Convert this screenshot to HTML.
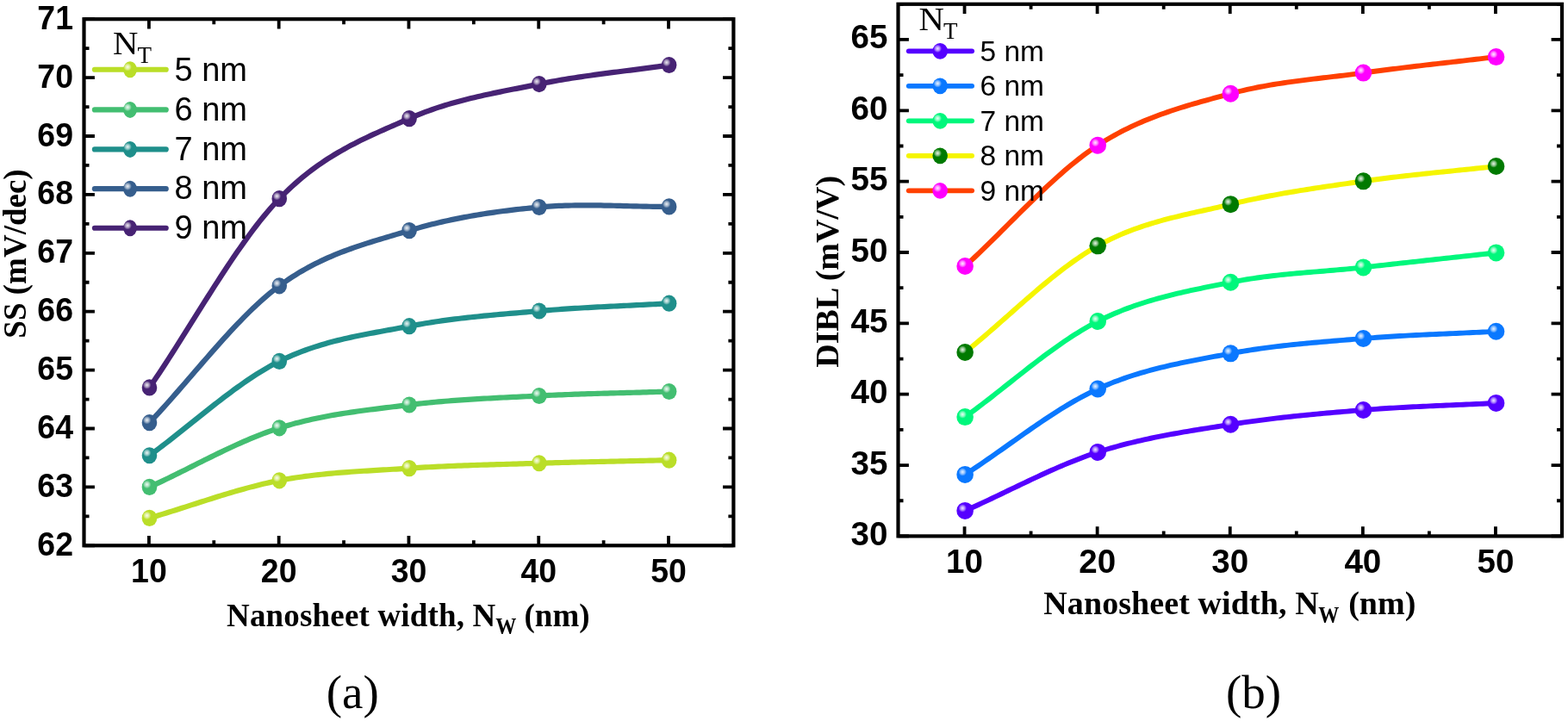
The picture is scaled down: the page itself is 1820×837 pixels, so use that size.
<!DOCTYPE html>
<html><head><meta charset="utf-8"><title>Figure</title><style>
html,body{margin:0;padding:0;background:#fff;}
body{width:1820px;height:837px;overflow:hidden;}
svg{display:block;}
.tk{font-family:"Liberation Sans",Arial,sans-serif;font-weight:bold;font-size:39px;fill:#000;}
.tkb{font-family:"Liberation Sans",Arial,sans-serif;font-weight:bold;font-size:38.6px;fill:#000;}
.lgb{font-family:"Liberation Sans",Arial,sans-serif;font-size:33.5px;fill:#000;}
.axb{font-family:"Liberation Serif","Times New Roman",serif;font-weight:bold;font-size:38px;fill:#000;}
.lg{font-family:"Liberation Sans",Arial,sans-serif;font-size:38px;fill:#000;}
.nt{font-family:"Liberation Serif","Times New Roman",serif;font-size:38px;fill:#000;}
.sub{font-size:27px;}
.ax{font-family:"Liberation Serif","Times New Roman",serif;font-weight:bold;font-size:37px;fill:#000;}
.axsub{font-size:28px;}
.pl{font-family:"Liberation Serif","Times New Roman",serif;font-size:55px;fill:#000;}
</style></head><body>
<svg width="1820" height="837" viewBox="0 0 1820 837">
<defs><radialGradient id="hl"><stop offset="0" stop-color="#fff" stop-opacity="0.9"/><stop offset="0.5" stop-color="#fff" stop-opacity="0.55"/><stop offset="1" stop-color="#fff" stop-opacity="0"/></radialGradient></defs>
<rect width="1820" height="837" fill="#fff"/>
<rect x="97.5" y="22.2" width="753.9" height="611.1" fill="none" stroke="#000" stroke-width="4.2"/>
<path d="M172.89 633.3V622.1M172.89 22.2V33.4M323.67 633.3V622.1M323.67 22.2V33.4M474.45 633.3V622.1M474.45 22.2V33.4M625.23 633.3V622.1M625.23 22.2V33.4M776.01 633.3V622.1M776.01 22.2V33.4M248.28 633.3V627.3M248.28 22.2V28.2M399.06 633.3V627.3M399.06 22.2V28.2M549.84 633.3V627.3M549.84 22.2V28.2M700.62 633.3V627.3M700.62 22.2V28.2M97.5 633.3H109.9M851.4 633.3H839M97.5 565.4H109.9M851.4 565.4H839M97.5 497.5H109.9M851.4 497.5H839M97.5 429.6H109.9M851.4 429.6H839M97.5 361.7H109.9M851.4 361.7H839M97.5 293.8H109.9M851.4 293.8H839M97.5 225.9H109.9M851.4 225.9H839M97.5 158H109.9M851.4 158H839M97.5 90.1H109.9M851.4 90.1H839M97.5 22.2H109.9M851.4 22.2H839M97.5 599.35H103.5M851.4 599.35H845.4M97.5 531.45H103.5M851.4 531.45H845.4M97.5 463.55H103.5M851.4 463.55H845.4M97.5 395.65H103.5M851.4 395.65H845.4M97.5 327.75H103.5M851.4 327.75H845.4M97.5 259.85H103.5M851.4 259.85H845.4M97.5 191.95H103.5M851.4 191.95H845.4M97.5 124.05H103.5M851.4 124.05H845.4M97.5 56.15H103.5M851.4 56.15H845.4" stroke="#000" stroke-width="3.8" fill="none"/>
<text class="tk" transform="translate(85,644.8) scale(0.96,1)" text-anchor="end">62</text>
<text class="tk" transform="translate(85,576.9) scale(0.96,1)" text-anchor="end">63</text>
<text class="tk" transform="translate(85,509) scale(0.96,1)" text-anchor="end">64</text>
<text class="tk" transform="translate(85,441.1) scale(0.96,1)" text-anchor="end">65</text>
<text class="tk" transform="translate(85,373.2) scale(0.96,1)" text-anchor="end">66</text>
<text class="tk" transform="translate(85,305.3) scale(0.96,1)" text-anchor="end">67</text>
<text class="tk" transform="translate(85,237.4) scale(0.96,1)" text-anchor="end">68</text>
<text class="tk" transform="translate(85,169.5) scale(0.96,1)" text-anchor="end">69</text>
<text class="tk" transform="translate(85,101.6) scale(0.96,1)" text-anchor="end">70</text>
<text class="tk" transform="translate(85,33.7) scale(0.96,1)" text-anchor="end">71</text>
<text class="tk" transform="translate(172.89,676.1) scale(0.96,1)" text-anchor="middle">10</text>
<text class="tk" transform="translate(323.67,676.1) scale(0.96,1)" text-anchor="middle">20</text>
<text class="tk" transform="translate(474.45,676.1) scale(0.96,1)" text-anchor="middle">30</text>
<text class="tk" transform="translate(625.23,676.1) scale(0.96,1)" text-anchor="middle">40</text>
<text class="tk" transform="translate(776.01,676.1) scale(0.96,1)" text-anchor="middle">50</text>
<polyline points="173.49,601.39 177.26,600.29 181.03,599.17 184.8,598.04 188.57,596.9 192.34,595.74 196.11,594.57 199.88,593.39 203.65,592.2 207.42,591 211.18,589.8 214.95,588.59 218.72,587.38 222.49,586.17 226.26,584.96 230.03,583.75 233.8,582.54 237.57,581.33 241.34,580.13 245.11,578.94 248.88,577.75 252.65,576.58 256.42,575.41 260.19,574.26 263.96,573.12 267.73,571.99 271.5,570.88 275.27,569.79 279.04,568.71 282.81,567.66 286.58,566.63 290.34,565.62 294.11,564.63 297.88,563.67 301.65,562.74 305.42,561.84 309.19,560.96 312.96,560.12 316.73,559.31 320.5,558.54 324.27,557.8 328.04,557.09 331.81,556.41 335.58,555.77 339.35,555.15 343.12,554.56 346.89,553.99 350.66,553.46 354.43,552.94 358.2,552.45 361.97,551.98 365.73,551.54 369.5,551.11 373.27,550.71 377.04,550.32 380.81,549.95 384.58,549.6 388.35,549.26 392.12,548.94 395.89,548.64 399.66,548.34 403.43,548.06 407.2,547.78 410.97,547.52 414.74,547.27 418.51,547.02 422.28,546.78 426.05,546.55 429.82,546.32 433.59,546.1 437.36,545.88 441.12,545.66 444.89,545.44 448.66,545.22 452.43,545 456.2,544.78 459.97,544.55 463.74,544.32 467.51,544.09 471.28,543.85 475.05,543.6 478.82,543.36 482.59,543.12 486.36,542.89 490.13,542.67 493.9,542.46 497.67,542.25 501.44,542.06 505.21,541.87 508.98,541.68 512.75,541.5 516.51,541.33 520.28,541.17 524.05,541.01 527.82,540.85 531.59,540.7 535.36,540.56 539.13,540.42 542.9,540.28 546.67,540.15 550.44,540.02 554.21,539.9 557.98,539.77 561.75,539.66 565.52,539.54 569.29,539.42 573.06,539.31 576.83,539.2 580.6,539.09 584.37,538.98 588.14,538.87 591.9,538.76 595.67,538.66 599.44,538.55 603.21,538.44 606.98,538.33 610.75,538.22 614.52,538.11 618.29,538 622.06,537.88 625.83,537.76 629.6,537.65 633.37,537.53 637.14,537.42 640.91,537.31 644.68,537.21 648.45,537.1 652.22,537 655.99,536.9 659.76,536.8 663.52,536.71 667.29,536.61 671.06,536.52 674.83,536.43 678.6,536.34 682.37,536.25 686.14,536.16 689.91,536.08 693.68,535.99 697.45,535.91 701.22,535.83 704.99,535.74 708.76,535.66 712.53,535.58 716.3,535.5 720.07,535.42 723.84,535.34 727.61,535.26 731.38,535.18 735.15,535.09 738.92,535.01 742.68,534.93 746.45,534.85 750.22,534.77 753.99,534.68 757.76,534.6 761.53,534.52 765.3,534.43 769.07,534.34 772.84,534.26 776.61,534.17" fill="none" stroke="#BADE28" stroke-width="6.2" stroke-linejoin="round" stroke-linecap="round"/>
<polyline points="173.49,565.4 177.26,563.67 181.03,561.92 184.8,560.15 188.57,558.35 192.34,556.54 196.11,554.71 199.88,552.87 203.65,551.02 207.42,549.15 211.18,547.28 214.95,545.4 218.72,543.51 222.49,541.62 226.26,539.73 230.03,537.85 233.8,535.96 237.57,534.09 241.34,532.21 245.11,530.35 248.88,528.5 252.65,526.66 256.42,524.84 260.19,523.03 263.96,521.25 267.73,519.48 271.5,517.74 275.27,516.02 279.04,514.33 282.81,512.66 286.58,511.03 290.34,509.43 294.11,507.86 297.88,506.34 301.65,504.85 305.42,503.4 309.19,501.99 312.96,500.62 316.73,499.31 320.5,498.04 324.27,496.82 328.04,495.65 331.81,494.52 335.58,493.43 339.35,492.37 343.12,491.36 346.89,490.38 350.66,489.43 354.43,488.52 358.2,487.65 361.97,486.8 365.73,485.98 369.5,485.19 373.27,484.43 377.04,483.7 380.81,482.99 384.58,482.3 388.35,481.64 392.12,481 395.89,480.38 399.66,479.78 403.43,479.2 407.2,478.64 410.97,478.09 414.74,477.55 418.51,477.03 422.28,476.52 426.05,476.02 429.82,475.53 433.59,475.05 437.36,474.58 441.12,474.11 444.89,473.65 448.66,473.2 452.43,472.74 456.2,472.29 459.97,471.83 463.74,471.38 467.51,470.92 471.28,470.46 475.05,470 478.82,469.54 482.59,469.1 486.36,468.67 490.13,468.26 493.9,467.87 497.67,467.49 501.44,467.12 505.21,466.76 508.98,466.42 512.75,466.09 516.51,465.78 520.28,465.47 524.05,465.18 527.82,464.89 531.59,464.62 535.36,464.35 539.13,464.09 542.9,463.85 546.67,463.6 550.44,463.37 554.21,463.15 557.98,462.93 561.75,462.71 565.52,462.5 569.29,462.3 573.06,462.1 576.83,461.9 580.6,461.71 584.37,461.52 588.14,461.33 591.9,461.15 595.67,460.96 599.44,460.78 603.21,460.6 606.98,460.41 610.75,460.23 614.52,460.04 618.29,459.86 622.06,459.67 625.83,459.48 629.6,459.29 633.37,459.1 637.14,458.93 640.91,458.75 644.68,458.59 648.45,458.43 652.22,458.28 655.99,458.13 659.76,457.98 663.52,457.85 667.29,457.71 671.06,457.58 674.83,457.45 678.6,457.33 682.37,457.21 686.14,457.09 689.91,456.98 693.68,456.87 697.45,456.76 701.22,456.65 704.99,456.54 708.76,456.44 712.53,456.34 716.3,456.23 720.07,456.13 723.84,456.03 727.61,455.93 731.38,455.83 735.15,455.73 738.92,455.63 742.68,455.53 746.45,455.42 750.22,455.32 753.99,455.21 757.76,455.1 761.53,454.99 765.3,454.88 769.07,454.76 772.84,454.64 776.61,454.52" fill="none" stroke="#43BE71" stroke-width="6.2" stroke-linejoin="round" stroke-linecap="round"/>
<polyline points="173.49,528.73 177.26,525.98 181.03,523.19 184.8,520.36 188.57,517.49 192.34,514.6 196.11,511.68 199.88,508.74 203.65,505.77 207.42,502.79 211.18,499.8 214.95,496.79 218.72,493.78 222.49,490.76 226.26,487.74 230.03,484.73 233.8,481.71 237.57,478.71 241.34,475.72 245.11,472.75 248.88,469.79 252.65,466.85 256.42,463.94 260.19,461.06 263.96,458.2 267.73,455.39 271.5,452.61 275.27,449.87 279.04,447.17 282.81,444.52 286.58,441.92 290.34,439.38 294.11,436.89 297.88,434.46 301.65,432.1 305.42,429.8 309.19,427.57 312.96,425.41 316.73,423.33 320.5,421.33 324.27,419.41 328.04,417.57 331.81,415.8 335.58,414.1 339.35,412.46 343.12,410.88 346.89,409.37 350.66,407.91 354.43,406.51 358.2,405.16 361.97,403.87 365.73,402.62 369.5,401.43 373.27,400.27 377.04,399.17 380.81,398.1 384.58,397.07 388.35,396.08 392.12,395.13 395.89,394.21 399.66,393.32 403.43,392.45 407.2,391.62 410.97,390.81 414.74,390.02 418.51,389.25 422.28,388.5 426.05,387.76 429.82,387.04 433.59,386.33 437.36,385.63 441.12,384.94 444.89,384.25 448.66,383.56 452.43,382.88 456.2,382.19 459.97,381.51 463.74,380.81 467.51,380.11 471.28,379.4 475.05,378.68 478.82,377.96 482.59,377.26 486.36,376.59 490.13,375.93 493.9,375.3 497.67,374.69 501.44,374.1 505.21,373.53 508.98,372.97 512.75,372.43 516.51,371.91 520.28,371.4 524.05,370.91 527.82,370.44 531.59,369.98 535.36,369.53 539.13,369.09 542.9,368.67 546.67,368.26 550.44,367.85 554.21,367.46 557.98,367.08 561.75,366.7 565.52,366.34 569.29,365.98 573.06,365.63 576.83,365.28 580.6,364.94 584.37,364.61 588.14,364.27 591.9,363.94 595.67,363.62 599.44,363.29 603.21,362.97 606.98,362.65 610.75,362.33 614.52,362 618.29,361.68 622.06,361.35 625.83,361.02 629.6,360.7 633.37,360.38 637.14,360.08 640.91,359.78 644.68,359.5 648.45,359.22 652.22,358.95 655.99,358.69 659.76,358.44 663.52,358.19 667.29,357.96 671.06,357.72 674.83,357.5 678.6,357.28 682.37,357.06 686.14,356.85 689.91,356.65 693.68,356.45 697.45,356.25 701.22,356.06 704.99,355.86 708.76,355.67 712.53,355.49 716.3,355.3 720.07,355.12 723.84,354.93 727.61,354.75 731.38,354.56 735.15,354.38 738.92,354.19 742.68,354.01 746.45,353.82 750.22,353.63 753.99,353.43 757.76,353.24 761.53,353.04 765.3,352.83 769.07,352.62 772.84,352.41 776.61,352.19" fill="none" stroke="#1F8F8B" stroke-width="6.2" stroke-linejoin="round" stroke-linecap="round"/>
<polyline points="173.49,490.71 177.26,486.71 181.03,482.65 184.8,478.55 188.57,474.4 192.34,470.2 196.11,465.97 199.88,461.71 203.65,457.42 207.42,453.1 211.18,448.77 214.95,444.42 218.72,440.06 222.49,435.7 226.26,431.33 230.03,426.97 233.8,422.61 237.57,418.26 241.34,413.94 245.11,409.63 248.88,405.35 252.65,401.09 256.42,396.88 260.19,392.7 263.96,388.56 267.73,384.47 271.5,380.43 275.27,376.45 279.04,372.53 282.81,368.67 286.58,364.89 290.34,361.17 294.11,357.54 297.88,353.99 301.65,350.52 305.42,347.15 309.19,343.88 312.96,340.7 316.73,337.63 320.5,334.67 324.27,331.82 328.04,329.08 331.81,326.43 335.58,323.88 339.35,321.4 343.12,319.02 346.89,316.71 350.66,314.49 354.43,312.34 358.2,310.26 361.97,308.26 365.73,306.32 369.5,304.45 373.27,302.64 377.04,300.89 380.81,299.2 384.58,297.56 388.35,295.98 392.12,294.44 395.89,292.95 399.66,291.51 403.43,290.1 407.2,288.74 410.97,287.41 414.74,286.11 418.51,284.85 422.28,283.61 426.05,282.4 429.82,281.2 433.59,280.03 437.36,278.88 441.12,277.74 444.89,276.61 448.66,275.49 452.43,274.37 456.2,273.26 459.97,272.15 463.74,271.04 467.51,269.92 471.28,268.79 475.05,267.66 478.82,266.53 482.59,265.43 486.36,264.37 490.13,263.32 493.9,262.31 497.67,261.33 501.44,260.37 505.21,259.43 508.98,258.53 512.75,257.64 516.51,256.79 520.28,255.95 524.05,255.15 527.82,254.36 531.59,253.6 535.36,252.86 539.13,252.14 542.9,251.44 546.67,250.76 550.44,250.11 554.21,249.47 557.98,248.85 561.75,248.25 565.52,247.67 569.29,247.11 573.06,246.57 576.83,246.04 580.6,245.53 584.37,245.03 588.14,244.55 591.9,244.09 595.67,243.64 599.44,243.2 603.21,242.78 606.98,242.37 610.75,241.97 614.52,241.59 618.29,241.21 622.06,240.85 625.83,240.5 629.6,240.17 633.37,239.87 637.14,239.6 640.91,239.36 644.68,239.15 648.45,238.97 652.22,238.81 655.99,238.68 659.76,238.57 663.52,238.48 667.29,238.41 671.06,238.36 674.83,238.33 678.6,238.32 682.37,238.32 686.14,238.34 689.91,238.37 693.68,238.42 697.45,238.47 701.22,238.53 704.99,238.61 708.76,238.68 712.53,238.77 716.3,238.86 720.07,238.95 723.84,239.04 727.61,239.14 731.38,239.23 735.15,239.33 738.92,239.42 742.68,239.5 746.45,239.58 750.22,239.66 753.99,239.73 757.76,239.78 761.53,239.83 765.3,239.86 769.07,239.89 772.84,239.89 776.61,239.89" fill="none" stroke="#365E8D" stroke-width="6.2" stroke-linejoin="round" stroke-linecap="round"/>
<polyline points="173.49,449.97 177.26,444.45 181.03,438.85 184.8,433.19 188.57,427.47 192.34,421.69 196.11,415.86 199.88,409.99 203.65,404.09 207.42,398.15 211.18,392.18 214.95,386.2 218.72,380.2 222.49,374.19 226.26,368.18 230.03,362.18 233.8,356.18 237.57,350.2 241.34,344.24 245.11,338.31 248.88,332.42 252.65,326.56 256.42,320.75 260.19,314.99 263.96,309.29 267.73,303.65 271.5,298.08 275.27,292.58 279.04,287.17 282.81,281.84 286.58,276.6 290.34,271.47 294.11,266.43 297.88,261.51 301.65,256.71 305.42,252.02 309.19,247.47 312.96,243.05 316.73,238.77 320.5,234.64 324.27,230.65 328.04,226.81 331.81,223.09 335.58,219.49 339.35,216 343.12,212.62 346.89,209.35 350.66,206.18 354.43,203.12 358.2,200.15 361.97,197.28 365.73,194.49 369.5,191.8 373.27,189.18 377.04,186.65 380.81,184.19 384.58,181.81 388.35,179.49 392.12,177.25 395.89,175.06 399.66,172.94 403.43,170.87 407.2,168.85 410.97,166.89 414.74,164.96 418.51,163.08 422.28,161.24 426.05,159.44 429.82,157.67 433.59,155.92 437.36,154.2 441.12,152.5 444.89,150.82 448.66,149.16 452.43,147.51 456.2,145.86 459.97,144.22 463.74,142.58 467.51,140.94 471.28,139.29 475.05,137.63 478.82,135.99 482.59,134.41 486.36,132.88 490.13,131.4 493.9,129.97 497.67,128.58 501.44,127.24 505.21,125.94 508.98,124.68 512.75,123.47 516.51,122.29 520.28,121.15 524.05,120.05 527.82,118.98 531.59,117.94 535.36,116.93 539.13,115.95 542.9,115 546.67,114.07 550.44,113.16 554.21,112.28 557.98,111.42 561.75,110.58 565.52,109.76 569.29,108.95 573.06,108.15 576.83,107.37 580.6,106.6 584.37,105.83 588.14,105.08 591.9,104.33 595.67,103.58 599.44,102.84 603.21,102.1 606.98,101.35 610.75,100.61 614.52,99.86 618.29,99.1 622.06,98.34 625.83,97.57 629.6,96.8 633.37,96.06 637.14,95.34 640.91,94.63 644.68,93.95 648.45,93.28 652.22,92.64 655.99,92 659.76,91.39 663.52,90.79 667.29,90.2 671.06,89.63 674.83,89.06 678.6,88.51 682.37,87.98 686.14,87.45 689.91,86.93 693.68,86.41 697.45,85.91 701.22,85.41 704.99,84.92 708.76,84.43 712.53,83.95 716.3,83.46 720.07,82.99 723.84,82.51 727.61,82.03 731.38,81.55 735.15,81.08 738.92,80.6 742.68,80.11 746.45,79.63 750.22,79.14 753.99,78.64 757.76,78.14 761.53,77.63 765.3,77.11 769.07,76.58 772.84,76.05 776.61,75.5" fill="none" stroke="#472374" stroke-width="6.2" stroke-linejoin="round" stroke-linecap="round"/>
<ellipse cx="173.49" cy="601.39" rx="8.8" ry="9.6" fill="#BADE28"/>
<circle cx="170.59" cy="598.39" r="4.8" fill="url(#hl)"/>
<ellipse cx="324.27" cy="557.8" rx="8.8" ry="9.6" fill="#BADE28"/>
<circle cx="321.37" cy="554.8" r="4.8" fill="url(#hl)"/>
<ellipse cx="475.05" cy="543.6" rx="8.8" ry="9.6" fill="#BADE28"/>
<circle cx="472.15" cy="540.6" r="4.8" fill="url(#hl)"/>
<ellipse cx="625.83" cy="537.76" rx="8.8" ry="9.6" fill="#BADE28"/>
<circle cx="622.93" cy="534.76" r="4.8" fill="url(#hl)"/>
<ellipse cx="776.61" cy="534.17" rx="8.8" ry="9.6" fill="#BADE28"/>
<circle cx="773.71" cy="531.17" r="4.8" fill="url(#hl)"/>
<ellipse cx="173.49" cy="565.4" rx="8.8" ry="9.6" fill="#43BE71"/>
<circle cx="170.59" cy="562.4" r="4.8" fill="url(#hl)"/>
<ellipse cx="324.27" cy="496.82" rx="8.8" ry="9.6" fill="#43BE71"/>
<circle cx="321.37" cy="493.82" r="4.8" fill="url(#hl)"/>
<ellipse cx="475.05" cy="470" rx="8.8" ry="9.6" fill="#43BE71"/>
<circle cx="472.15" cy="467" r="4.8" fill="url(#hl)"/>
<ellipse cx="625.83" cy="459.48" rx="8.8" ry="9.6" fill="#43BE71"/>
<circle cx="622.93" cy="456.48" r="4.8" fill="url(#hl)"/>
<ellipse cx="776.61" cy="454.52" rx="8.8" ry="9.6" fill="#43BE71"/>
<circle cx="773.71" cy="451.52" r="4.8" fill="url(#hl)"/>
<ellipse cx="173.49" cy="528.73" rx="8.8" ry="9.6" fill="#1F8F8B"/>
<circle cx="170.59" cy="525.73" r="4.8" fill="url(#hl)"/>
<ellipse cx="324.27" cy="419.41" rx="8.8" ry="9.6" fill="#1F8F8B"/>
<circle cx="321.37" cy="416.41" r="4.8" fill="url(#hl)"/>
<ellipse cx="475.05" cy="378.68" rx="8.8" ry="9.6" fill="#1F8F8B"/>
<circle cx="472.15" cy="375.68" r="4.8" fill="url(#hl)"/>
<ellipse cx="625.83" cy="361.02" rx="8.8" ry="9.6" fill="#1F8F8B"/>
<circle cx="622.93" cy="358.02" r="4.8" fill="url(#hl)"/>
<ellipse cx="776.61" cy="352.19" rx="8.8" ry="9.6" fill="#1F8F8B"/>
<circle cx="773.71" cy="349.19" r="4.8" fill="url(#hl)"/>
<ellipse cx="173.49" cy="490.71" rx="8.8" ry="9.6" fill="#365E8D"/>
<circle cx="170.59" cy="487.71" r="4.8" fill="url(#hl)"/>
<ellipse cx="324.27" cy="331.82" rx="8.8" ry="9.6" fill="#365E8D"/>
<circle cx="321.37" cy="328.82" r="4.8" fill="url(#hl)"/>
<ellipse cx="475.05" cy="267.66" rx="8.8" ry="9.6" fill="#365E8D"/>
<circle cx="472.15" cy="264.66" r="4.8" fill="url(#hl)"/>
<ellipse cx="625.83" cy="240.5" rx="8.8" ry="9.6" fill="#365E8D"/>
<circle cx="622.93" cy="237.5" r="4.8" fill="url(#hl)"/>
<ellipse cx="776.61" cy="239.89" rx="8.8" ry="9.6" fill="#365E8D"/>
<circle cx="773.71" cy="236.89" r="4.8" fill="url(#hl)"/>
<ellipse cx="173.49" cy="449.97" rx="8.8" ry="9.6" fill="#472374"/>
<circle cx="170.59" cy="446.97" r="4.8" fill="url(#hl)"/>
<ellipse cx="324.27" cy="230.65" rx="8.8" ry="9.6" fill="#472374"/>
<circle cx="321.37" cy="227.65" r="4.8" fill="url(#hl)"/>
<ellipse cx="475.05" cy="137.63" rx="8.8" ry="9.6" fill="#472374"/>
<circle cx="472.15" cy="134.63" r="4.8" fill="url(#hl)"/>
<ellipse cx="625.83" cy="97.57" rx="8.8" ry="9.6" fill="#472374"/>
<circle cx="622.93" cy="94.57" r="4.8" fill="url(#hl)"/>
<ellipse cx="776.61" cy="75.5" rx="8.8" ry="9.6" fill="#472374"/>
<circle cx="773.71" cy="72.5" r="4.8" fill="url(#hl)"/>
<text class="nt" transform="translate(131,62.9) scale(1.07,1)">N</text>
<text class="nt sub" x="159.6" y="72.9">T</text>
<line x1="109.9" y1="80.75" x2="192.7" y2="80.75" stroke="#BADE28" stroke-width="6.2" stroke-linecap="round"/>
<ellipse cx="151" cy="80.75" rx="7.9" ry="9.5" fill="#BADE28"/>
<circle cx="148.1" cy="77.75" r="4.8" fill="url(#hl)"/>
<text class="lg" x="202.5" y="94">5 nm</text>
<line x1="109.9" y1="127.4" x2="192.7" y2="127.4" stroke="#43BE71" stroke-width="6.2" stroke-linecap="round"/>
<ellipse cx="151" cy="127.4" rx="7.9" ry="9.5" fill="#43BE71"/>
<circle cx="148.1" cy="124.4" r="4.8" fill="url(#hl)"/>
<text class="lg" x="202.5" y="139.8">6 nm</text>
<line x1="109.9" y1="173.4" x2="192.7" y2="173.4" stroke="#1F8F8B" stroke-width="6.2" stroke-linecap="round"/>
<ellipse cx="151" cy="173.4" rx="7.9" ry="9.5" fill="#1F8F8B"/>
<circle cx="148.1" cy="170.4" r="4.8" fill="url(#hl)"/>
<text class="lg" x="202.5" y="185.6">7 nm</text>
<line x1="109.9" y1="219.2" x2="192.7" y2="219.2" stroke="#365E8D" stroke-width="6.2" stroke-linecap="round"/>
<ellipse cx="151" cy="219.2" rx="7.9" ry="9.5" fill="#365E8D"/>
<circle cx="148.1" cy="216.2" r="4.8" fill="url(#hl)"/>
<text class="lg" x="202.5" y="231.3">8 nm</text>
<line x1="109.9" y1="264.75" x2="192.7" y2="264.75" stroke="#472374" stroke-width="6.2" stroke-linecap="round"/>
<ellipse cx="151" cy="264.75" rx="7.9" ry="9.5" fill="#472374"/>
<circle cx="148.1" cy="261.75" r="4.8" fill="url(#hl)"/>
<text class="lg" x="202.5" y="277.1">9 nm</text>
<text class="ax" x="263" y="726.5" letter-spacing="0.17">Nanosheet width, N</text>
<text class="ax axsub" transform="translate(575.2,736.4) scale(0.86,1)">W</text>
<text class="ax" x="608.5" y="726.5">(nm)</text>
<text class="ax" transform="translate(29.5,294.5) rotate(-90)" text-anchor="middle">SS (mV/dec)</text>
<text class="pl" x="409.2" y="822" text-anchor="middle">(a)</text>
<rect x="1042.5" y="4.8" width="770.5" height="617.6" fill="none" stroke="#000" stroke-width="4.2"/>
<path d="M1119.55 622.4V611.2M1119.55 4.8V16M1273.65 622.4V611.2M1273.65 4.8V16M1427.75 622.4V611.2M1427.75 4.8V16M1581.85 622.4V611.2M1581.85 4.8V16M1735.95 622.4V611.2M1735.95 4.8V16M1196.6 622.4V616.4M1196.6 4.8V10.8M1350.7 622.4V616.4M1350.7 4.8V10.8M1504.8 622.4V616.4M1504.8 4.8V10.8M1658.9 622.4V616.4M1658.9 4.8V10.8M1042.5 622.4H1054.9M1813 622.4H1800.6M1042.5 540.05H1054.9M1813 540.05H1800.6M1042.5 457.71H1054.9M1813 457.71H1800.6M1042.5 375.36H1054.9M1813 375.36H1800.6M1042.5 293.01H1054.9M1813 293.01H1800.6M1042.5 210.67H1054.9M1813 210.67H1800.6M1042.5 128.32H1054.9M1813 128.32H1800.6M1042.5 45.97H1054.9M1813 45.97H1800.6M1042.5 581.23H1048.5M1813 581.23H1807M1042.5 498.88H1048.5M1813 498.88H1807M1042.5 416.53H1048.5M1813 416.53H1807M1042.5 334.19H1048.5M1813 334.19H1807M1042.5 251.84H1048.5M1813 251.84H1807M1042.5 169.49H1048.5M1813 169.49H1807M1042.5 87.15H1048.5M1813 87.15H1807M1042.5 4.8H1048.5M1813 4.8H1807" stroke="#000" stroke-width="3.8" fill="none"/>
<text class="tkb" transform="translate(1030.5,632.9) scale(1.0,1)" text-anchor="end">30</text>
<text class="tkb" transform="translate(1030.5,550.55) scale(1.0,1)" text-anchor="end">35</text>
<text class="tkb" transform="translate(1030.5,468.21) scale(1.0,1)" text-anchor="end">40</text>
<text class="tkb" transform="translate(1030.5,385.86) scale(1.0,1)" text-anchor="end">45</text>
<text class="tkb" transform="translate(1030.5,303.51) scale(1.0,1)" text-anchor="end">50</text>
<text class="tkb" transform="translate(1030.5,221.17) scale(1.0,1)" text-anchor="end">55</text>
<text class="tkb" transform="translate(1030.5,138.82) scale(1.0,1)" text-anchor="end">60</text>
<text class="tkb" transform="translate(1030.5,56.47) scale(1.0,1)" text-anchor="end">65</text>
<text class="tkb" transform="translate(1119.55,665.4) scale(1.0,1)" text-anchor="middle">10</text>
<text class="tkb" transform="translate(1273.65,665.4) scale(1.0,1)" text-anchor="middle">20</text>
<text class="tkb" transform="translate(1427.75,665.4) scale(1.0,1)" text-anchor="middle">30</text>
<text class="tkb" transform="translate(1581.85,665.4) scale(1.0,1)" text-anchor="middle">40</text>
<text class="tkb" transform="translate(1735.95,665.4) scale(1.0,1)" text-anchor="middle">50</text>
<polyline points="1120.15,592.92 1124,591.21 1127.86,589.48 1131.71,587.73 1135.56,585.96 1139.41,584.17 1143.26,582.37 1147.12,580.56 1150.97,578.74 1154.82,576.91 1158.67,575.07 1162.53,573.23 1166.38,571.38 1170.23,569.53 1174.09,567.68 1177.94,565.84 1181.79,563.99 1185.64,562.15 1189.49,560.31 1193.35,558.48 1197.2,556.67 1201.05,554.86 1204.9,553.07 1208.76,551.29 1212.61,549.52 1216.46,547.78 1220.31,546.05 1224.17,544.35 1228.02,542.67 1231.87,541.01 1235.72,539.38 1239.58,537.78 1243.43,536.21 1247.28,534.67 1251.13,533.16 1254.99,531.69 1258.84,530.25 1262.69,528.85 1266.54,527.49 1270.4,526.18 1274.25,524.9 1278.1,523.67 1281.95,522.47 1285.81,521.3 1289.66,520.17 1293.51,519.06 1297.36,517.99 1301.22,516.95 1305.07,515.94 1308.92,514.95 1312.77,513.99 1316.63,513.06 1320.48,512.15 1324.33,511.26 1328.18,510.4 1332.04,509.56 1335.89,508.74 1339.74,507.93 1343.59,507.15 1347.45,506.39 1351.3,505.64 1355.15,504.91 1359,504.2 1362.86,503.49 1366.71,502.81 1370.56,502.13 1374.41,501.46 1378.27,500.81 1382.12,500.16 1385.97,499.53 1389.82,498.9 1393.68,498.27 1397.53,497.65 1401.38,497.04 1405.23,496.43 1409.09,495.82 1412.94,495.22 1416.79,494.61 1420.64,494 1424.5,493.4 1428.35,492.79 1432.2,492.18 1436.05,491.59 1439.91,491.01 1443.76,490.45 1447.61,489.89 1451.46,489.35 1455.32,488.82 1459.17,488.31 1463.02,487.8 1466.88,487.31 1470.73,486.82 1474.58,486.35 1478.43,485.88 1482.28,485.43 1486.14,484.98 1489.99,484.55 1493.84,484.12 1497.69,483.7 1501.55,483.29 1505.4,482.88 1509.25,482.49 1513.11,482.1 1516.96,481.72 1520.81,481.34 1524.66,480.97 1528.51,480.61 1532.37,480.25 1536.22,479.9 1540.07,479.56 1543.92,479.21 1547.78,478.88 1551.63,478.54 1555.48,478.21 1559.34,477.89 1563.19,477.57 1567.04,477.25 1570.89,476.93 1574.74,476.61 1578.6,476.3 1582.45,475.99 1586.3,475.68 1590.15,475.39 1594.01,475.1 1597.86,474.83 1601.71,474.56 1605.57,474.3 1609.42,474.06 1613.27,473.81 1617.12,473.58 1620.97,473.36 1624.83,473.14 1628.68,472.93 1632.53,472.72 1636.38,472.52 1640.24,472.32 1644.09,472.13 1647.94,471.94 1651.8,471.76 1655.65,471.58 1659.5,471.41 1663.35,471.23 1667.2,471.06 1671.06,470.89 1674.91,470.73 1678.76,470.56 1682.61,470.39 1686.47,470.23 1690.32,470.06 1694.17,469.9 1698.02,469.73 1701.88,469.56 1705.73,469.39 1709.58,469.22 1713.43,469.04 1717.29,468.87 1721.14,468.69 1724.99,468.5 1728.84,468.31 1732.7,468.12 1736.55,467.92" fill="none" stroke="#5500FF" stroke-width="5.9" stroke-linejoin="round" stroke-linecap="round"/>
<polyline points="1120.15,550.92 1124,548.42 1127.86,545.88 1131.71,543.31 1135.56,540.71 1139.41,538.09 1143.26,535.44 1147.12,532.78 1150.97,530.09 1154.82,527.4 1158.67,524.69 1162.53,521.97 1166.38,519.24 1170.23,516.51 1174.09,513.78 1177.94,511.05 1181.79,508.33 1185.64,505.61 1189.49,502.91 1193.35,500.21 1197.2,497.54 1201.05,494.88 1204.9,492.24 1208.76,489.62 1212.61,487.03 1216.46,484.48 1220.31,481.95 1224.17,479.45 1228.02,477 1231.87,474.58 1235.72,472.21 1239.58,469.89 1243.43,467.61 1247.28,465.38 1251.13,463.21 1254.99,461.09 1258.84,459.03 1262.69,457.04 1266.54,455.1 1270.4,453.24 1274.25,451.45 1278.1,449.72 1281.95,448.05 1285.81,446.43 1289.66,444.87 1293.51,443.36 1297.36,441.89 1301.22,440.48 1305.07,439.11 1308.92,437.79 1312.77,436.51 1316.63,435.28 1320.48,434.08 1324.33,432.93 1328.18,431.81 1332.04,430.72 1335.89,429.67 1339.74,428.65 1343.59,427.66 1347.45,426.7 1351.3,425.77 1355.15,424.87 1359,423.98 1362.86,423.12 1366.71,422.28 1370.56,421.46 1374.41,420.66 1378.27,419.87 1382.12,419.1 1385.97,418.34 1389.82,417.59 1393.68,416.85 1397.53,416.12 1401.38,415.4 1405.23,414.68 1409.09,413.96 1412.94,413.24 1416.79,412.53 1420.64,411.81 1424.5,411.09 1428.35,410.36 1432.2,409.64 1436.05,408.94 1439.91,408.27 1443.76,407.62 1447.61,406.99 1451.46,406.38 1455.32,405.79 1459.17,405.22 1463.02,404.67 1466.88,404.13 1470.73,403.61 1474.58,403.11 1478.43,402.63 1482.28,402.16 1486.14,401.7 1489.99,401.26 1493.84,400.83 1497.69,400.42 1501.55,400.01 1505.4,399.62 1509.25,399.23 1513.11,398.86 1516.96,398.49 1520.81,398.14 1524.66,397.79 1528.51,397.44 1532.37,397.11 1536.22,396.78 1540.07,396.45 1543.92,396.13 1547.78,395.81 1551.63,395.49 1555.48,395.18 1559.34,394.87 1563.19,394.55 1567.04,394.24 1570.89,393.93 1574.74,393.62 1578.6,393.3 1582.45,392.98 1586.3,392.67 1590.15,392.36 1594.01,392.07 1597.86,391.79 1601.71,391.52 1605.57,391.25 1609.42,391 1613.27,390.75 1617.12,390.51 1620.97,390.28 1624.83,390.06 1628.68,389.84 1632.53,389.63 1636.38,389.42 1640.24,389.22 1644.09,389.03 1647.94,388.84 1651.8,388.65 1655.65,388.47 1659.5,388.29 1663.35,388.12 1667.2,387.94 1671.06,387.77 1674.91,387.6 1678.76,387.43 1682.61,387.27 1686.47,387.1 1690.32,386.93 1694.17,386.76 1698.02,386.59 1701.88,386.42 1705.73,386.25 1709.58,386.07 1713.43,385.9 1717.29,385.71 1721.14,385.53 1724.99,385.34 1728.84,385.15 1732.7,384.95 1736.55,384.75" fill="none" stroke="#0A78FF" stroke-width="5.9" stroke-linejoin="round" stroke-linecap="round"/>
<polyline points="1120.15,484.06 1124,481.26 1127.86,478.43 1131.71,475.56 1135.56,472.66 1139.41,469.73 1143.26,466.78 1147.12,463.8 1150.97,460.81 1154.82,457.79 1158.67,454.77 1162.53,451.73 1166.38,448.69 1170.23,445.64 1174.09,442.59 1177.94,439.54 1181.79,436.5 1185.64,433.47 1189.49,430.45 1193.35,427.44 1197.2,424.45 1201.05,421.48 1204.9,418.53 1208.76,415.61 1212.61,412.72 1216.46,409.87 1220.31,407.05 1224.17,404.27 1228.02,401.53 1231.87,398.83 1235.72,396.18 1239.58,393.59 1243.43,391.05 1247.28,388.57 1251.13,386.14 1254.99,383.79 1258.84,381.49 1262.69,379.27 1266.54,377.12 1270.4,375.05 1274.25,373.05 1278.1,371.13 1281.95,369.27 1285.81,367.48 1289.66,365.74 1293.51,364.06 1297.36,362.43 1301.22,360.86 1305.07,359.34 1308.92,357.88 1312.77,356.46 1316.63,355.08 1320.48,353.76 1324.33,352.47 1328.18,351.23 1332.04,350.03 1335.89,348.87 1339.74,347.74 1343.59,346.65 1347.45,345.59 1351.3,344.56 1355.15,343.56 1359,342.59 1362.86,341.64 1366.71,340.72 1370.56,339.82 1374.41,338.94 1378.27,338.07 1382.12,337.23 1385.97,336.4 1389.82,335.58 1393.68,334.78 1397.53,333.98 1401.38,333.2 1405.23,332.42 1409.09,331.64 1412.94,330.87 1416.79,330.09 1420.64,329.32 1424.5,328.54 1428.35,327.76 1432.2,327 1436.05,326.26 1439.91,325.56 1443.76,324.89 1447.61,324.25 1451.46,323.64 1455.32,323.06 1459.17,322.5 1463.02,321.96 1466.88,321.45 1470.73,320.96 1474.58,320.49 1478.43,320.04 1482.28,319.6 1486.14,319.19 1489.99,318.78 1493.84,318.4 1497.69,318.02 1501.55,317.66 1505.4,317.31 1509.25,316.96 1513.11,316.62 1516.96,316.29 1520.81,315.97 1524.66,315.65 1528.51,315.33 1532.37,315.01 1536.22,314.69 1540.07,314.37 1543.92,314.05 1547.78,313.72 1551.63,313.39 1555.48,313.05 1559.34,312.71 1563.19,312.35 1567.04,311.98 1570.89,311.61 1574.74,311.21 1578.6,310.81 1582.45,310.39 1586.3,309.96 1590.15,309.53 1594.01,309.1 1597.86,308.68 1601.71,308.25 1605.57,307.82 1609.42,307.4 1613.27,306.97 1617.12,306.54 1620.97,306.12 1624.83,305.69 1628.68,305.27 1632.53,304.84 1636.38,304.42 1640.24,304 1644.09,303.57 1647.94,303.15 1651.8,302.73 1655.65,302.3 1659.5,301.88 1663.35,301.46 1667.2,301.04 1671.06,300.61 1674.91,300.19 1678.76,299.77 1682.61,299.35 1686.47,298.92 1690.32,298.5 1694.17,298.08 1698.02,297.66 1701.88,297.23 1705.73,296.81 1709.58,296.39 1713.43,295.97 1717.29,295.54 1721.14,295.12 1724.99,294.7 1728.84,294.27 1732.7,293.85 1736.55,293.43" fill="none" stroke="#00F77C" stroke-width="5.9" stroke-linejoin="round" stroke-linecap="round"/>
<polyline points="1120.15,408.96 1124,405.84 1127.86,402.69 1131.71,399.49 1135.56,396.26 1139.41,392.99 1143.26,389.7 1147.12,386.37 1150.97,383.03 1154.82,379.67 1158.67,376.29 1162.53,372.9 1166.38,369.5 1170.23,366.1 1174.09,362.69 1177.94,359.29 1181.79,355.9 1185.64,352.51 1189.49,349.14 1193.35,345.78 1197.2,342.44 1201.05,339.13 1204.9,335.84 1208.76,332.59 1212.61,329.37 1216.46,326.18 1220.31,323.04 1224.17,319.94 1228.02,316.89 1231.87,313.89 1235.72,310.95 1239.58,308.07 1243.43,305.25 1247.28,302.49 1251.13,299.81 1254.99,297.2 1258.84,294.66 1262.69,292.21 1266.54,289.83 1270.4,287.55 1274.25,285.36 1278.1,283.25 1281.95,281.22 1285.81,279.27 1289.66,277.39 1293.51,275.58 1297.36,273.84 1301.22,272.16 1305.07,270.55 1308.92,269 1312.77,267.51 1316.63,266.07 1320.48,264.69 1324.33,263.35 1328.18,262.07 1332.04,260.83 1335.89,259.63 1339.74,258.47 1343.59,257.36 1347.45,256.27 1351.3,255.22 1355.15,254.2 1359,253.21 1362.86,252.24 1366.71,251.3 1370.56,250.37 1374.41,249.46 1378.27,248.57 1382.12,247.69 1385.97,246.82 1389.82,245.96 1393.68,245.1 1397.53,244.25 1401.38,243.39 1405.23,242.53 1409.09,241.67 1412.94,240.8 1416.79,239.91 1420.64,239.02 1424.5,238.11 1428.35,237.18 1432.2,236.25 1436.05,235.35 1439.91,234.46 1443.76,233.59 1447.61,232.74 1451.46,231.91 1455.32,231.09 1459.17,230.3 1463.02,229.51 1466.88,228.75 1470.73,228 1474.58,227.26 1478.43,226.54 1482.28,225.83 1486.14,225.13 1489.99,224.45 1493.84,223.78 1497.69,223.12 1501.55,222.47 1505.4,221.83 1509.25,221.2 1513.11,220.58 1516.96,219.97 1520.81,219.36 1524.66,218.77 1528.51,218.18 1532.37,217.59 1536.22,217.02 1540.07,216.44 1543.92,215.88 1547.78,215.31 1551.63,214.75 1555.48,214.2 1559.34,213.64 1563.19,213.09 1567.04,212.54 1570.89,211.99 1574.74,211.44 1578.6,210.89 1582.45,210.34 1586.3,209.79 1590.15,209.26 1594.01,208.73 1597.86,208.22 1601.71,207.72 1605.57,207.23 1609.42,206.74 1613.27,206.27 1617.12,205.8 1620.97,205.34 1624.83,204.89 1628.68,204.45 1632.53,204.01 1636.38,203.58 1640.24,203.15 1644.09,202.73 1647.94,202.32 1651.8,201.91 1655.65,201.5 1659.5,201.09 1663.35,200.69 1667.2,200.29 1671.06,199.9 1674.91,199.5 1678.76,199.11 1682.61,198.72 1686.47,198.32 1690.32,197.93 1694.17,197.54 1698.02,197.14 1701.88,196.75 1705.73,196.35 1709.58,195.95 1713.43,195.55 1717.29,195.14 1721.14,194.73 1724.99,194.32 1728.84,193.9 1732.7,193.47 1736.55,193.04" fill="none" stroke="#F5F500" stroke-width="5.9" stroke-linejoin="round" stroke-linecap="round"/>
<polyline points="1120.15,308.99 1124,305.46 1127.86,301.88 1131.71,298.26 1135.56,294.6 1139.41,290.9 1143.26,287.17 1147.12,283.42 1150.97,279.64 1154.82,275.84 1158.67,272.03 1162.53,268.2 1166.38,264.36 1170.23,260.52 1174.09,256.68 1177.94,252.84 1181.79,249 1185.64,245.18 1189.49,241.37 1193.35,237.58 1197.2,233.81 1201.05,230.06 1204.9,226.34 1208.76,222.66 1212.61,219.01 1216.46,215.4 1220.31,211.84 1224.17,208.32 1228.02,204.86 1231.87,201.45 1235.72,198.1 1239.58,194.81 1243.43,191.59 1247.28,188.44 1251.13,185.36 1254.99,182.36 1258.84,179.45 1262.69,176.62 1266.54,173.87 1270.4,171.22 1274.25,168.67 1278.1,166.21 1281.95,163.82 1285.81,161.5 1289.66,159.26 1293.51,157.09 1297.36,154.98 1301.22,152.94 1305.07,150.96 1308.92,149.05 1312.77,147.19 1316.63,145.39 1320.48,143.65 1324.33,141.96 1328.18,140.32 1332.04,138.73 1335.89,137.18 1339.74,135.69 1343.59,134.23 1347.45,132.81 1351.3,131.43 1355.15,130.09 1359,128.78 1362.86,127.51 1366.71,126.26 1370.56,125.05 1374.41,123.86 1378.27,122.69 1382.12,121.54 1385.97,120.42 1389.82,119.31 1393.68,118.21 1397.53,117.13 1401.38,116.06 1405.23,115 1409.09,113.95 1412.94,112.9 1416.79,111.86 1420.64,110.82 1424.5,109.77 1428.35,108.72 1432.2,107.69 1436.05,106.7 1439.91,105.75 1443.76,104.83 1447.61,103.95 1451.46,103.11 1455.32,102.3 1459.17,101.51 1463.02,100.76 1466.88,100.04 1470.73,99.34 1474.58,98.67 1478.43,98.03 1482.28,97.41 1486.14,96.8 1489.99,96.22 1493.84,95.66 1497.69,95.11 1501.55,94.58 1505.4,94.07 1509.25,93.57 1513.11,93.08 1516.96,92.59 1520.81,92.12 1524.66,91.66 1528.51,91.2 1532.37,90.74 1536.22,90.29 1540.07,89.84 1543.92,89.39 1547.78,88.94 1551.63,88.49 1555.48,88.03 1559.34,87.57 1563.19,87.1 1567.04,86.62 1570.89,86.13 1574.74,85.63 1578.6,85.12 1582.45,84.59 1586.3,84.06 1590.15,83.54 1594.01,83.02 1597.86,82.51 1601.71,82.01 1605.57,81.51 1609.42,81.02 1613.27,80.53 1617.12,80.05 1620.97,79.57 1624.83,79.09 1628.68,78.62 1632.53,78.16 1636.38,77.7 1640.24,77.24 1644.09,76.78 1647.94,76.33 1651.8,75.88 1655.65,75.43 1659.5,74.98 1663.35,74.54 1667.2,74.09 1671.06,73.65 1674.91,73.21 1678.76,72.77 1682.61,72.33 1686.47,71.89 1690.32,71.45 1694.17,71.01 1698.02,70.57 1701.88,70.12 1705.73,69.68 1709.58,69.24 1713.43,68.79 1717.29,68.34 1721.14,67.89 1724.99,67.44 1728.84,66.99 1732.7,66.53 1736.55,66.07" fill="none" stroke="#FF4000" stroke-width="5.9" stroke-linejoin="round" stroke-linecap="round"/>
<ellipse cx="1120.15" cy="592.92" rx="9.8" ry="10" fill="#5500FF"/>
<circle cx="1117.25" cy="589.92" r="4.8" fill="url(#hl)"/>
<ellipse cx="1274.25" cy="524.9" rx="9.8" ry="10" fill="#5500FF"/>
<circle cx="1271.35" cy="521.9" r="4.8" fill="url(#hl)"/>
<ellipse cx="1428.35" cy="492.79" rx="9.8" ry="10" fill="#5500FF"/>
<circle cx="1425.45" cy="489.79" r="4.8" fill="url(#hl)"/>
<ellipse cx="1582.45" cy="475.99" rx="9.8" ry="10" fill="#5500FF"/>
<circle cx="1579.55" cy="472.99" r="4.8" fill="url(#hl)"/>
<ellipse cx="1736.55" cy="467.92" rx="9.8" ry="10" fill="#5500FF"/>
<circle cx="1733.65" cy="464.92" r="4.8" fill="url(#hl)"/>
<ellipse cx="1120.15" cy="550.92" rx="9.8" ry="10" fill="#0A78FF"/>
<circle cx="1117.25" cy="547.92" r="4.8" fill="url(#hl)"/>
<ellipse cx="1274.25" cy="451.45" rx="9.8" ry="10" fill="#0A78FF"/>
<circle cx="1271.35" cy="448.45" r="4.8" fill="url(#hl)"/>
<ellipse cx="1428.35" cy="410.36" rx="9.8" ry="10" fill="#0A78FF"/>
<circle cx="1425.45" cy="407.36" r="4.8" fill="url(#hl)"/>
<ellipse cx="1582.45" cy="392.98" rx="9.8" ry="10" fill="#0A78FF"/>
<circle cx="1579.55" cy="389.98" r="4.8" fill="url(#hl)"/>
<ellipse cx="1736.55" cy="384.75" rx="9.8" ry="10" fill="#0A78FF"/>
<circle cx="1733.65" cy="381.75" r="4.8" fill="url(#hl)"/>
<ellipse cx="1120.15" cy="484.06" rx="9.8" ry="10" fill="#00F77C"/>
<circle cx="1117.25" cy="481.06" r="4.8" fill="url(#hl)"/>
<ellipse cx="1274.25" cy="373.05" rx="9.8" ry="10" fill="#00F77C"/>
<circle cx="1271.35" cy="370.05" r="4.8" fill="url(#hl)"/>
<ellipse cx="1428.35" cy="327.76" rx="9.8" ry="10" fill="#00F77C"/>
<circle cx="1425.45" cy="324.76" r="4.8" fill="url(#hl)"/>
<ellipse cx="1582.45" cy="310.39" rx="9.8" ry="10" fill="#00F77C"/>
<circle cx="1579.55" cy="307.39" r="4.8" fill="url(#hl)"/>
<ellipse cx="1736.55" cy="293.43" rx="9.8" ry="10" fill="#00F77C"/>
<circle cx="1733.65" cy="290.43" r="4.8" fill="url(#hl)"/>
<ellipse cx="1120.15" cy="408.96" rx="9.8" ry="10" fill="#007A00"/>
<circle cx="1117.25" cy="405.96" r="4.8" fill="url(#hl)"/>
<ellipse cx="1274.25" cy="285.36" rx="9.8" ry="10" fill="#007A00"/>
<circle cx="1271.35" cy="282.36" r="4.8" fill="url(#hl)"/>
<ellipse cx="1428.35" cy="237.18" rx="9.8" ry="10" fill="#007A00"/>
<circle cx="1425.45" cy="234.18" r="4.8" fill="url(#hl)"/>
<ellipse cx="1582.45" cy="210.34" rx="9.8" ry="10" fill="#007A00"/>
<circle cx="1579.55" cy="207.34" r="4.8" fill="url(#hl)"/>
<ellipse cx="1736.55" cy="193.04" rx="9.8" ry="10" fill="#007A00"/>
<circle cx="1733.65" cy="190.04" r="4.8" fill="url(#hl)"/>
<ellipse cx="1120.15" cy="308.99" rx="9.8" ry="10" fill="#FF00FF"/>
<circle cx="1117.25" cy="305.99" r="4.8" fill="url(#hl)"/>
<ellipse cx="1274.25" cy="168.67" rx="9.8" ry="10" fill="#FF00FF"/>
<circle cx="1271.35" cy="165.67" r="4.8" fill="url(#hl)"/>
<ellipse cx="1428.35" cy="108.72" rx="9.8" ry="10" fill="#FF00FF"/>
<circle cx="1425.45" cy="105.72" r="4.8" fill="url(#hl)"/>
<ellipse cx="1582.45" cy="84.59" rx="9.8" ry="10" fill="#FF00FF"/>
<circle cx="1579.55" cy="81.59" r="4.8" fill="url(#hl)"/>
<ellipse cx="1736.55" cy="66.07" rx="9.8" ry="10" fill="#FF00FF"/>
<circle cx="1733.65" cy="63.07" r="4.8" fill="url(#hl)"/>
<text class="nt" transform="translate(1066.5,35.3) scale(1.07,1)">N</text>
<text class="nt sub" x="1095.1" y="45.3">T</text>
<line x1="1054.8" y1="59.35" x2="1128.1" y2="59.35" stroke="#5500FF" stroke-width="5.9" stroke-linecap="round"/>
<ellipse cx="1091.2" cy="59.35" rx="8.8" ry="9.4" fill="#5500FF"/>
<circle cx="1088.3" cy="56.35" r="4.8" fill="url(#hl)"/>
<text class="lgb" x="1137.5" y="70.75">5 nm</text>
<line x1="1054.8" y1="99.85" x2="1128.1" y2="99.85" stroke="#0A78FF" stroke-width="5.9" stroke-linecap="round"/>
<ellipse cx="1091.2" cy="99.85" rx="8.8" ry="9.4" fill="#0A78FF"/>
<circle cx="1088.3" cy="96.85" r="4.8" fill="url(#hl)"/>
<text class="lgb" x="1137.5" y="111.25">6 nm</text>
<line x1="1054.8" y1="140.35" x2="1128.1" y2="140.35" stroke="#00F77C" stroke-width="5.9" stroke-linecap="round"/>
<ellipse cx="1091.2" cy="140.35" rx="8.8" ry="9.4" fill="#00F77C"/>
<circle cx="1088.3" cy="137.35" r="4.8" fill="url(#hl)"/>
<text class="lgb" x="1137.5" y="151.75">7 nm</text>
<line x1="1054.8" y1="180.85" x2="1128.1" y2="180.85" stroke="#F5F500" stroke-width="5.9" stroke-linecap="round"/>
<ellipse cx="1091.2" cy="180.85" rx="8.8" ry="9.4" fill="#007A00"/>
<circle cx="1088.3" cy="177.85" r="4.8" fill="url(#hl)"/>
<text class="lgb" x="1137.5" y="192.25">8 nm</text>
<line x1="1054.8" y1="221.35" x2="1128.1" y2="221.35" stroke="#FF4000" stroke-width="5.9" stroke-linecap="round"/>
<ellipse cx="1091.2" cy="221.35" rx="8.8" ry="9.4" fill="#FF00FF"/>
<circle cx="1088.3" cy="218.35" r="4.8" fill="url(#hl)"/>
<text class="lgb" x="1137.5" y="232.75">9 nm</text>
<text class="axb" x="1211.3" y="712.5" letter-spacing="0.09">Nanosheet width, N</text>
<text class="axb axsub" transform="translate(1530.2,722.8) scale(0.86,1)">W</text>
<text class="axb" x="1565.2" y="712.5">(nm)</text>
<text class="axb" transform="translate(972.5,315.3) rotate(-90)" text-anchor="middle">DIBL (mV/V)</text>
<text class="pl" x="1455" y="822" text-anchor="middle">(b)</text>
</svg>
</body></html>
